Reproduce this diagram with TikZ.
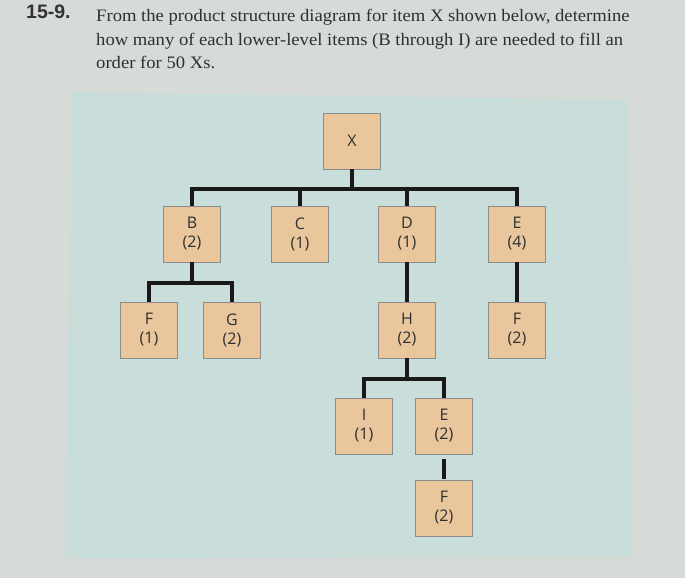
\documentclass[tikz,border=0pt]{standalone}
\usepackage{fontspec}
\setmainfont{Liberation Serif}
\newfontfamily\probtextfont[FakeStretch=1.065]{Liberation Serif}
\newfontfamily\itemfont{Open Sans}
\newfontfamily\probfont{Liberation Sans}
\usetikzlibrary{shadows}

\definecolor{pagegray}{RGB}{214,219,215}
\definecolor{panelblue}{RGB}{201,222,218}
\definecolor{itemtan}{RGB}{233,198,156}
\definecolor{inkgray}{RGB}{45,48,50}

\tikzset{
  item/.style={fill=itemtan, draw=black!45, line width=0.4bp,
    minimum width=57bp, minimum height=56bp, inner sep=0pt,
    align=center, text=inkgray,
    font=\itemfont\fontsize{16bp}{19bp}\selectfont,
    general shadow={fill=black!75, shadow xshift=0.9bp, shadow yshift=-0.9bp}},
  link/.style={draw=black!90, line width=3.2bp},
  bodytext/.style={anchor=base west, inner sep=0pt, text=inkgray,
    font=\probtextfont\fontsize{17.5bp}{24bp}\selectfont},
}

\begin{document}
\begin{tikzpicture}[line join=miter]
\useasboundingbox (0bp,0bp) rectangle (685bp,578bp);
%% page and panel
\fill [pagegray] (0bp,0bp) rectangle (685bp,578bp);
\fill [panelblue] (72bp,486bp) -- (628bp,478bp) -- (632bp,21bp) -- (65bp,20bp) -- cycle;
%% problem text
\node (prob_num) at (26bp,559bp) [bodytext,text=black!80,font=\probfont\bfseries\fontsize{19.5bp}{24bp}\selectfont] {15-9.};
\node (prob_l1) at (96bp,556bp) [bodytext] {From the product structure diagram for item X shown below, determine};
\node (prob_l2) at (96bp,532.5bp) [bodytext] {how many of each lower-level items (B through I) are needed to fill an};
\node (prob_l3) at (96bp,509bp) [bodytext] {order for 50 Xs.};
%% level 0
\node (item_X) at (352bp,437bp) [item] {X};
%% level 1
\node (item_B) at (192bp,344bp) [item] {B\\(2)};
\node (item_C) at (300bp,344bp) [item] {C\\(1)};
\node (item_D) at (407bp,344bp) [item] {D\\(1)};
\node (item_E) at (517bp,344bp) [item] {E\\(4)};
%% level 2
\node (item_F1) at (149bp,248bp) [item] {F\\(1)};
\node (item_G) at (232bp,248bp) [item] {G\\(2)};
\node (item_H) at (407bp,248bp) [item] {H\\(2)};
\node (item_F2) at (517bp,248bp) [item] {F\\(2)};
%% level 3
\node (item_I) at (364bp,152bp) [item] {I\\(1)};
\node (item_E2) at (444bp,152bp) [item] {E\\(2)};
%% level 4
\node (item_F3) at (444bp,70bp) [item] {F\\(2)};
%% buses
\coordinate (bus_X) at (352bp,389bp);
\coordinate (bus_B) at (192bp,295bp);
\coordinate (bus_H) at (407bp,199bp);
\draw [link] (item_X) -- (bus_X);
\foreach \n in {B,C,D,E}
  \draw [link] (bus_X) -| (item_\n);
\draw [link] (item_B) -- (bus_B);
\foreach \n in {F1,G}
  \draw [link] (bus_B) -| (item_\n);
\draw [link] (item_D) -- (item_H);
\draw [link] (item_E) -- (item_F2);
\draw [link] (item_H) -- (bus_H);
\foreach \n in {I,E2}
  \draw [link] (bus_H) -| (item_\n);
\draw [link,shorten <=5bp,shorten >=1bp] (item_E2) -- (item_F3);
%
\end{tikzpicture}
\end{document}
